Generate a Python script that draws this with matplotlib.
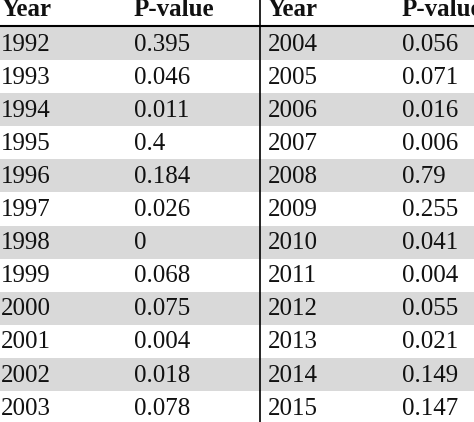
import matplotlib
matplotlib.use("Agg")
import matplotlib.pyplot as plt
from matplotlib.patches import Rectangle

years_left = ["1992","1993","1994","1995","1996","1997","1998","1999","2000","2001","2002","2003"]
pvals_left = ["0.395","0.046","0.011","0.4","0.184","0.026","0","0.068","0.075","0.004","0.018","0.078"]
years_right = ["2004","2005","2006","2007","2008","2009","2010","2011","2012","2013","2014","2015"]
pvals_right = ["0.056","0.071","0.016","0.006","0.79","0.255","0.041","0.004","0.055","0.021","0.149","0.147"]
headers = ["Year", "P-value"]

plt.rcParams['font.family'] = ['Liberation Serif', 'Times New Roman', 'DejaVu Serif']
W, H = 474, 422
fig = plt.figure(figsize=(W/100, H/100), dpi=100)
ax = fig.add_axes([0, 0, 1, 1])
ax.set_xlim(0, W)
ax.set_ylim(H, 0)
ax.axis("off")

top, rh = 27, 33.1
font = dict(fontsize=18, color="#111111", va="center")
for i in range(len(years_left)):
    y0 = top + i*rh
    if i % 2 == 0:
        ax.add_patch(Rectangle((0, y0), W, rh, color="#d9d9d9", lw=0))
    yc = y0 + rh/2 + 1
    ax.text(1, yc, years_left[i], **font)
    ax.text(134, yc, pvals_left[i], **font)
    ax.text(268, yc, years_right[i], **font)
    ax.text(402, yc, pvals_right[i], **font)

hf = dict(font, fontweight="bold")
for x, h in zip([1, 134, 268, 402], headers*2):
    ax.text(x, 10, h, **hf)
ax.plot([0, W], [25.5, 25.5], color="black", lw=1.5)
ax.plot([260.5, 260.5], [0, H], color="black", lw=1.2)
fig.savefig("out.png", dpi=100)
